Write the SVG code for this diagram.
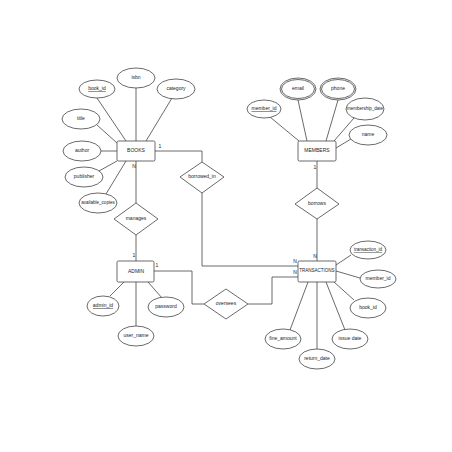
<svg xmlns="http://www.w3.org/2000/svg" width="452" height="452" viewBox="0 0 452 452">
<style>
.e{fill:#fff;stroke:#444;stroke-width:0.8}
.d{fill:#fff;stroke:#444;stroke-width:0.8}
.r{fill:#fff;stroke:#444;stroke-width:0.8}
.c{fill:none;stroke:#444;stroke-width:0.8}
text{font-family:"Liberation Sans",Arial,sans-serif;font-size:5px;fill:#222;text-anchor:middle;dominant-baseline:middle}
.u{text-decoration:underline}
.s{font-size:4.5px}
</style>
<rect width="452" height="452" fill="#fff"/>
<g id="connectors">
<line class="c" x1="97" y1="98" x2="126" y2="141"/>
<line class="c" x1="136" y1="88" x2="136" y2="141"/>
<line class="c" x1="172" y1="98" x2="146" y2="141"/>
<line class="c" x1="97" y1="125" x2="117" y2="143"/>
<line class="c" x1="101" y1="151" x2="117" y2="151"/>
<line class="c" x1="99" y1="171" x2="117" y2="161"/>
<line class="c" x1="106" y1="194" x2="126" y2="161"/>
<polyline class="c" points="136,161 136,203"/>
<polyline class="c" points="136,235 136,261"/>
<polyline class="c" points="155,151 202,151 202,162"/>
<polyline class="c" points="202,193 202,266 298,266"/>
<line class="c" x1="270" y1="117" x2="299" y2="141"/>
<line class="c" x1="298" y1="100" x2="307" y2="141"/>
<line class="c" x1="338" y1="100" x2="326" y2="141"/>
<line class="c" x1="354" y1="118" x2="334" y2="141"/>
<line class="c" x1="351" y1="139" x2="336" y2="148"/>
<polyline class="c" points="317,161 317,188"/>
<polyline class="c" points="317,219 317,261"/>
<line class="c" x1="124" y1="282" x2="110" y2="296"/>
<line class="c" x1="136" y1="282" x2="136" y2="327"/>
<line class="c" x1="148" y1="282" x2="162" y2="298"/>
<polyline class="c" points="154,271 192,271 192,304 204,304"/>
<polyline class="c" points="248,304 272,304 272,277 298,277"/>
<line class="c" x1="336" y1="265" x2="351" y2="255"/>
<line class="c" x1="336" y1="271" x2="360" y2="278"/>
<line class="c" x1="334" y1="282" x2="354" y2="300"/>
<line class="c" x1="326" y1="282" x2="345" y2="330"/>
<line class="c" x1="317" y1="282" x2="317" y2="349"/>
<line class="c" x1="308" y1="282" x2="290" y2="330"/>
</g>
<g id="labels">
<text x="160" y="147">1</text>
<text x="134" y="167">N</text>
<text x="134" y="256">1</text>
<text x="157" y="266">1</text>
<text x="315" y="168">1</text>
<text x="315" y="257">N</text>
<text x="295" y="262">N</text>
<text x="295" y="273">N</text>
</g>
<g id="BOOKS"><rect class="r" x="117" y="141" width="38" height="20" rx="1.5"/><text x="136" y="151">BOOKS</text></g>
<g id="book_id"><ellipse class="e" cx="97" cy="89" rx="18" ry="9"/><text class="u" x="97" y="89">book_id</text></g>
<g id="isbn"><ellipse class="e" cx="136" cy="78" rx="19" ry="10"/><text x="136" y="78">isbn</text></g>
<g id="category"><ellipse class="e" cx="176" cy="89" rx="19" ry="10"/><text x="176" y="89">category</text></g>
<g id="title"><ellipse class="e" cx="81" cy="119" rx="19" ry="10"/><text x="81" y="119">title</text></g>
<g id="author"><ellipse class="e" cx="82" cy="151" rx="19" ry="10"/><text x="82" y="151">author</text></g>
<g id="publisher"><ellipse class="e" cx="84" cy="177" rx="19" ry="10"/><text x="84" y="177">publisher</text></g>
<g id="available_copies"><ellipse class="e" cx="98" cy="203" rx="19" ry="10"/><text class="s" x="98" y="203">available_copies</text></g>
<g id="manages"><polygon class="d" points="114,219 136,203 158,219 136,235"/><text x="136" y="219">manages</text></g>
<g id="borrowed_in"><polygon class="d" points="180,177 202,162 224,177 202,193"/><text x="202" y="177">borrowed_in</text></g>
<g id="MEMBERS"><rect class="r" x="298" y="141" width="38" height="20" rx="1.5"/><text x="317" y="151">MEMBERS</text></g>
<g id="member_id_m"><ellipse class="e" cx="264" cy="109" rx="17" ry="9"/><text class="u" x="264" y="109">member_id</text></g>
<g id="email"><ellipse class="e" cx="298" cy="89" rx="18" ry="11"/><ellipse class="e" cx="298" cy="89" rx="16.5" ry="9.5"/><text x="298" y="89">email</text></g>
<g id="phone"><ellipse class="e" cx="338" cy="89" rx="18" ry="11"/><ellipse class="e" cx="338" cy="89" rx="16.5" ry="9.5"/><text x="338" y="89">phone</text></g>
<g id="membership_date"><ellipse class="e" cx="365" cy="109" rx="19" ry="11"/><text class="s" x="365" y="109">membership_date</text></g>
<g id="name"><ellipse class="e" cx="368" cy="135" rx="19" ry="10"/><text x="368" y="135">name</text></g>
<g id="borrows"><polygon class="d" points="295,204 317,188 339,204 317,219"/><text x="317" y="204">borrows</text></g>
<g id="ADMIN"><rect class="r" x="117" y="261" width="37" height="21" rx="1.5"/><text x="136" y="272">ADMIN</text></g>
<g id="admin_id"><ellipse class="e" cx="103" cy="306" rx="16" ry="10"/><text class="u" x="103" y="306">admin_id</text></g>
<g id="password"><ellipse class="e" cx="166" cy="307" rx="18" ry="10"/><text x="166" y="307">password</text></g>
<g id="user_name"><ellipse class="e" cx="136" cy="336" rx="18" ry="10"/><text x="136" y="336">user_name</text></g>
<g id="oversees"><polygon class="d" points="204,304 226,289 248,304 226,319"/><text x="226" y="304">oversees</text></g>
<g id="TRANSACTIONS"><rect class="r" x="298" y="261" width="38" height="21" rx="1.5"/><text class="s" x="317" y="271">TRANSACTIONS</text></g>
<g id="transaction_id"><ellipse class="e" cx="368" cy="250" rx="18" ry="9"/><text class="u s" x="368" y="250">transaction_id</text></g>
<g id="member_id_t"><ellipse class="e" cx="378" cy="279" rx="18" ry="9"/><text x="378" y="279">member_id</text></g>
<g id="book_id_t"><ellipse class="e" cx="368" cy="308" rx="18" ry="10"/><text x="368" y="308">book_id</text></g>
<g id="issue_date"><ellipse class="e" cx="350" cy="339" rx="18" ry="10"/><text x="350" y="339">issue date</text></g>
<g id="return_date"><ellipse class="e" cx="317" cy="359" rx="18" ry="10"/><text x="317" y="359">return_date</text></g>
<g id="fine_amount"><ellipse class="e" cx="283" cy="339" rx="18" ry="10"/><text x="283" y="339">fine_amount</text></g>
</svg>
